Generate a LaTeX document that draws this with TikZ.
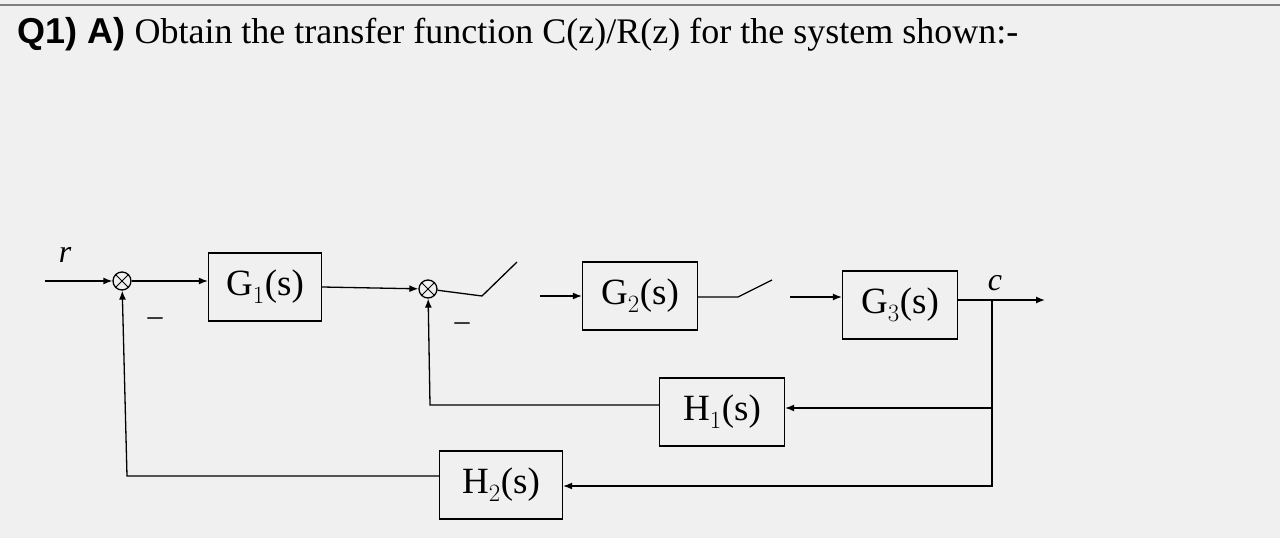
\documentclass[tikz,border=0pt]{standalone}
\usepackage{fontspec}
\setmainfont{Liberation Serif}
\newfontfamily\sansf{Liberation Sans}
\usetikzlibrary{arrows.meta}
\begin{document}
\begin{tikzpicture}[x=1pt,y=-1pt,
  blk/.style={draw,line width=1.3pt,minimum width=#1,minimum height=68pt,inner sep=0pt,font=\fontsize{37}{40}\selectfont},
  sumj/.style={draw,circle,line width=1.3pt,minimum size=18pt,inner sep=0pt,path picture={\draw[line width=1pt] (path picture bounding box.north west)--(path picture bounding box.south east) (path picture bounding box.south west)--(path picture bounding box.north east);}},
  ln/.style={line width=1.3pt},
  ar/.style={ln,-{Latex[length=9pt,width=7pt]}}]
\fill[gray!12] (0,0) rectangle (1280,538);
\useasboundingbox (0,0) rectangle (1280,538);
\draw[gray,line width=1.5pt] (0,5)--(1280,5);
\node[anchor=west,font=\fontsize{36}{38}\selectfont] (title) at (14,34) {{\sansf\bfseries Q1) A)} Obtain the transfer function C(z)/R(z) for the system shown:-};
\node[sumj] (s1) at (122,281) {};
\node[sumj] (s2) at (428,289) {};
\node[blk=113pt] (g1) at (265,287) {G$_1$(s)};
\node[blk=115pt] (g2) at (640,296) {G$_2$(s)};
\node[blk=115pt] (g3) at (900,305) {G$_3$(s)};
\node[blk=125pt] (h1) at (722,412) {H$_1$(s)};
\node[blk=123pt] (h2) at (501,485) {H$_2$(s)};
\node[font=\itshape\fontsize{32}{34}\selectfont] (r) at (65,255) {r};
\node[font=\itshape\fontsize{32}{34}\selectfont] (c) at (995,283) {c};
\node[font=\fontsize{30}{32}\selectfont] (m1) at (155,322) {--};
\node[font=\fontsize{30}{32}\selectfont] (m2) at (462,327) {--};
\coordinate (in) at (45,281);
\draw[ar] (in) -- (s1);
\draw[ar] (s1) -- (g1.west |- s1);
\draw[ar] (g1.east) -- (s2);
\coordinate (sw1a) at (482,296); \coordinate (sw1b) at (517,262);
\draw[ln] (s2) -- (sw1a) -- (sw1b);
\coordinate (a2) at (540,296);
\draw[ar] (a2) -- (g2.west);
\coordinate (sw2a) at (738,297); \coordinate (sw2b) at (772,280);
\draw[ln] (g2.east |- sw2a) -- (sw2a) -- (sw2b);
\coordinate (a3) at (790,297);
\draw[ar] (a3) -- (g3.west |- a3);
\coordinate (br) at (992,300);
\coordinate (out) at (1045,300);
\draw[ln] (g3.east |- br) -- (br);
\draw[ar] (br) -- (out);
\draw[ar] (br) -- (992,408) -- (h1.east |- 0,408);
\draw[ar] (992,408) -- (992,486) -- (h2.east |- 0,486);
\draw[ar] (h1.west |- 0,405) -- (430,405) -- (s2);
\draw[ar] (h2.west |- 0,476) -- (127,476) -- (s1);
\end{tikzpicture}
\end{document}
